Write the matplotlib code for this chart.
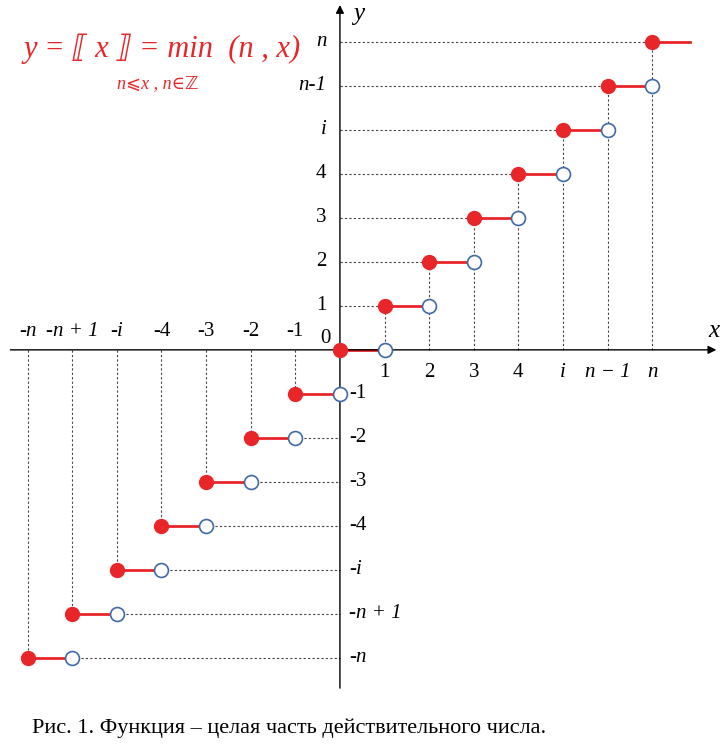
import matplotlib.pyplot as plt

plt.rcParams['font.family'] = ['Liberation Serif', 'DejaVu Serif', 'DejaVu Sans']

# integer positions on axes and their labels
pos_ticks = [1, 2, 3, 4, 5, 6, 7]
pos_xlabels = ['1', '2', '3', '4', 'i', 'n − 1', 'n']
pos_ylabels = ['1', '2', '3', '4', 'i', 'n-1', 'n']
neg_ticks = [-1, -2, -3, -4, -5, -6, -7]
neg_xlabels = ['-1', '-2', '-3', '-4', '-i', '-n + 1', '-n']
neg_ylabels = ['-1', '-2', '-3', '-4', '-i', '-n + 1', '-n']
italic_labels = {'i', 'n − 1', 'n', 'n-1', '-i', '-n + 1', '-n'}
steps = list(range(-7, 7))  # floor value k on [k, k+1)

RED = '#e8262a'
BLUE = '#3e6aa8'

fig = plt.figure(figsize=(7.2, 7.49), dpi=100)
ax = fig.add_axes([0, 0, 1, 1])
ax.set_xlim(-7.62, 8.52)
ax.set_ylim(-9.07, 7.95)
ax.axis('off')

dot = dict(color='#444444', lw=0.8, ls=(0, (2, 2)), zorder=1)

# guide lines
for k in pos_ticks:
    ax.plot([k, k], [0, k], **dot)
    ax.plot([0, k], [k, k], **dot)
for k in neg_ticks:
    ax.plot([k, k], [0, k], **dot)
    ax.plot([k + 1, 0], [k, k], **dot)

# axes with arrows
ax.annotate('', xy=(8.5, 0), xytext=(-7.45, 0),
            arrowprops=dict(arrowstyle='-|>', color='black', lw=1, mutation_scale=12))
ax.annotate('', xy=(0, 7.9), xytext=(0, -7.75),
            arrowprops=dict(arrowstyle='-|>', color='black', lw=1, mutation_scale=12))
ax.text(8.25, 0.3, 'x', fontsize=18, style='italic')
ax.text(0.3, 7.5, 'y', fontsize=18, style='italic')
ax.text(-0.45, 0.15, '0', fontsize=15)

# tick labels
for k, lx, ly in zip(pos_ticks, pos_xlabels, pos_ylabels):
    st = 'italic' if lx in italic_labels else 'normal'
    ax.text(k, -0.3, lx, fontsize=15, ha='center', va='top', style=st)
    st = 'italic' if ly in italic_labels else 'normal'
    ax.text(-0.3, k, ly, fontsize=15, ha='right', va='center', style=st)
for k, lx, ly in zip(neg_ticks, neg_xlabels, neg_ylabels):
    st = 'italic' if lx in italic_labels else 'normal'
    ax.text(k, 0.2, lx, fontsize=15, ha='center', va='bottom', style=st)
    st = 'italic' if ly in italic_labels else 'normal'
    ax.text(0.2, k, ly, fontsize=15, ha='left', va='center', style=st)

# step function
for k in steps:
    ax.plot([k, k + 1], [k, k], color=RED, lw=2, zorder=2)
    ax.plot(k + 1, k, 'o', ms=10, mfc='white', mec=BLUE, mew=1.2, zorder=3)
    ax.plot(k, k, 'o', ms=10, color=RED, zorder=4)
ax.plot([7, 7.85], [7, 7], color=RED, lw=2, zorder=2)
ax.plot(7, 7, 'o', ms=10, color=RED, zorder=4)

# formula
ax.text(-7.1, 6.65, 'y = ⟦ x ⟧ = min  (n , x)', fontsize=22, color=RED, style='italic')
ax.text(-5.0, 5.95, 'n⩽x , n∈ℤ', fontsize=13, color=RED, style='italic')

# caption
ax.text(-6.9, -8.7, 'Рис. 1. Функция – целая часть действительного числа.', fontsize=16)

fig.savefig('out.png')
